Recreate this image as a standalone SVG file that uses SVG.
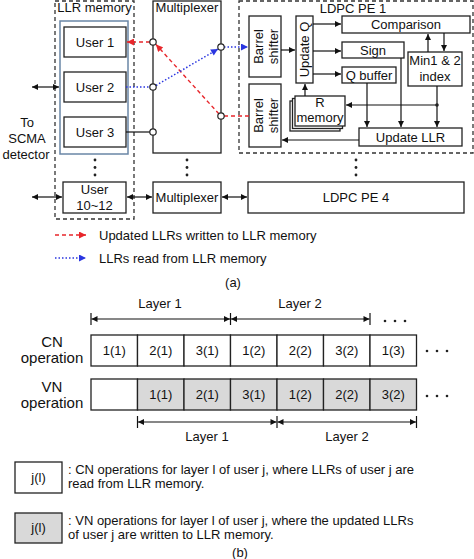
<svg xmlns="http://www.w3.org/2000/svg" width="474" height="559" viewBox="0 0 474 559">
<defs>
<style>
text{font-family:"Liberation Sans",Arial,sans-serif;font-size:13px;fill:#111}
.m{text-anchor:middle}
.box{fill:#fff;stroke:#222;stroke-width:1.3}
.g{fill:#d9d9d9;stroke:#222;stroke-width:1.3}
.dash{fill:none;stroke:#333;stroke-width:1.3;stroke-dasharray:4 3}
.ln{fill:none;stroke:#111;stroke-width:1.2}
.red{fill:none;stroke:#e8262b;stroke-width:1.4;stroke-dasharray:4 3}
.blue{fill:none;stroke:#2a36e0;stroke-width:1.5;stroke-dasharray:1.5 2}
.node{fill:#fff;stroke:#222;stroke-width:1.2}
.dot{fill:#222}
.big{font-size:15px}
</style>
<marker id="ab" viewBox="0 0 10 10" refX="10" refY="5" markerWidth="8" markerHeight="6" markerUnits="userSpaceOnUse" orient="auto-start-reverse"><path d="M0,0L10,5L0,10z" fill="#111"/></marker>
<marker id="ar" viewBox="0 0 10 10" refX="10" refY="5" markerWidth="9" markerHeight="7" markerUnits="userSpaceOnUse" orient="auto"><path d="M0,0L10,5L0,10z" fill="#e8262b"/></marker>
<marker id="au" viewBox="0 0 10 10" refX="10" refY="5" markerWidth="9" markerHeight="7" markerUnits="userSpaceOnUse" orient="auto"><path d="M0,0L10,5L0,10z" fill="#2a36e0"/></marker>
</defs>
<rect width="474" height="559" fill="#fff"/>

<!-- (a) containers -->
<g id="llr-memory">
<rect class="dash" x="55" y="1" width="79" height="218"/>
<text class="m" x="94.5" y="12">LLR memory</text>
<rect x="60" y="21" width="68" height="133" fill="none" stroke="#6a86a6" stroke-width="1.5"/>
</g>
<g id="user1"><rect class="box" x="64" y="27" width="62" height="30"/><text class="m" x="95" y="47">User 1</text></g>
<g id="user2"><rect class="box" x="64" y="72" width="62" height="30"/><text class="m" x="95" y="92">User 2</text></g>
<g id="user3"><rect class="box" x="64" y="117" width="62" height="30"/><text class="m" x="95" y="137">User 3</text></g>
<g id="user10-12"><rect class="box" x="63" y="182" width="63" height="31"/><text class="m" x="94.5" y="194">User</text><text class="m" x="94.5" y="210">10~12</text></g>

<g id="mux1"><rect class="box" x="153" y="1" width="68" height="152"/><text class="m" x="187" y="12">Multiplexer</text></g>
<g id="mux2"><rect class="box" x="153" y="182" width="68" height="31"/><text class="m" x="187" y="202">Multiplexer</text></g>

<g id="pe1">
<rect class="dash" x="239" y="1" width="234" height="152"/>
<text class="m" x="353" y="13">LDPC PE 1</text>
</g>
<g id="barrel1"><rect class="box" x="249" y="16" width="32" height="61"/>
<text class="m" transform="translate(263,46.5) rotate(-90)">Barrel</text><text class="m" transform="translate(277.5,46.5) rotate(-90)">shifter</text></g>
<g id="barrel2"><rect class="box" x="249" y="84" width="32" height="63"/>
<text class="m" transform="translate(263,115.5) rotate(-90)">Barrel</text><text class="m" transform="translate(277.5,115.5) rotate(-90)">shifter</text></g>
<g id="updateq"><rect class="box" x="296" y="16" width="17" height="67"/>
<text class="m" transform="translate(309,49.5) rotate(-90)">Update Q</text></g>
<g id="comparison"><rect class="box" x="342" y="16" width="128" height="17"/><text class="m" x="406" y="29">Comparison</text></g>
<g id="sign"><rect class="box" x="342" y="42" width="62" height="16"/><text class="m" x="373" y="55">Sign</text></g>
<g id="qbuffer"><rect class="box" x="342" y="67" width="54" height="16"/><text class="m" x="369" y="80">Q buffer</text></g>
<g id="min12"><rect class="box" x="408" y="52" width="54" height="34"/><text class="m" x="435" y="65">Min1 &amp; 2</text><text class="m" x="435" y="81">index</text></g>
<g id="rmemory">
<rect class="box" x="290" y="101" width="50" height="30"/>
<rect class="box" x="292.5" y="98.5" width="50" height="30"/>
<rect class="box" x="295" y="96" width="50" height="30"/>
<text class="m" x="320" y="107">R</text><text class="m" x="320" y="122">memory</text></g>
<g id="updatellr"><rect class="box" x="359" y="128" width="103" height="18"/><text class="m" x="410.5" y="142">Update LLR</text></g>

<g id="pe4"><rect class="box" x="248" y="182" width="216" height="31"/><text class="m" x="356" y="202">LDPC PE 4</text></g>

<!-- connectors (a) -->
<g id="connectors-a">
<line class="ln" x1="32" y1="87" x2="59" y2="87" marker-start="url(#ab)" marker-end="url(#ab)"/>
<line class="ln" x1="32" y1="197" x2="62" y2="197" marker-start="url(#ab)" marker-end="url(#ab)"/>
<line class="ln" x1="127" y1="197" x2="152" y2="197" marker-start="url(#ab)" marker-end="url(#ab)"/>
<line class="ln" x1="222" y1="197" x2="247" y2="197" marker-start="url(#ab)" marker-end="url(#ab)"/>
<line class="ln" x1="126" y1="132" x2="150" y2="132"/>
<!-- red: PE -> mux -> user1 -->
<line class="red" x1="249" y1="116" x2="224" y2="116"/>
<line class="red" x1="219" y1="114" x2="156" y2="44.5" marker-end="url(#ar)"/>
<line class="red" x1="150" y1="42" x2="127" y2="42" marker-end="url(#ar)"/>
<!-- blue: user2 -> mux -> PE -->
<line class="blue" x1="126" y1="87" x2="150" y2="87"/>
<line class="blue" x1="156" y1="85.5" x2="218" y2="49" marker-end="url(#au)"/>
<line class="blue" x1="224" y1="47" x2="248" y2="47" marker-end="url(#au)"/>
<circle class="node" cx="153" cy="42" r="3.2"/>
<circle class="node" cx="153" cy="87" r="3.2"/>
<circle class="node" cx="153" cy="132" r="3.2"/>
<circle class="node" cx="221" cy="47" r="3.2"/>
<circle class="node" cx="221" cy="116" r="3.2"/>
<!-- PE1 internal -->
<line class="ln" x1="281" y1="50" x2="295" y2="50" marker-end="url(#ab)"/>
<line class="ln" x1="313" y1="24" x2="341" y2="24" marker-end="url(#ab)"/>
<line class="ln" x1="313" y1="51" x2="341" y2="51" marker-end="url(#ab)"/>
<line class="ln" x1="313" y1="74" x2="341" y2="74" marker-end="url(#ab)"/>
<line class="ln" x1="428" y1="52" x2="428" y2="34" marker-end="url(#ab)"/>
<line class="ln" x1="444" y1="33" x2="444" y2="51" marker-end="url(#ab)"/>
<line class="ln" x1="305" y1="96" x2="305" y2="84" marker-end="url(#ab)"/>
<line class="ln" x1="437" y1="86" x2="437" y2="127" marker-end="url(#ab)"/>
<line class="ln" x1="437" y1="105" x2="346" y2="105" marker-end="url(#ab)"/>
<circle class="dot" cx="437" cy="105" r="1.8"/>
<line class="ln" x1="367" y1="83" x2="367" y2="127" marker-end="url(#ab)"/>
<line class="ln" x1="401" y1="58" x2="401" y2="127" marker-end="url(#ab)"/>
<line class="ln" x1="359" y1="140" x2="282" y2="140" marker-end="url(#ab)"/>
<!-- vertical dots -->
<g class="dot">
<circle cx="95" cy="160" r="1.4"/><circle cx="95" cy="167.5" r="1.4"/><circle cx="95" cy="175" r="1.4"/>
<circle cx="187" cy="160" r="1.4"/><circle cx="187" cy="167.5" r="1.4"/><circle cx="187" cy="175" r="1.4"/>
<circle cx="356" cy="160" r="1.4"/><circle cx="356" cy="167.5" r="1.4"/><circle cx="356" cy="175" r="1.4"/>
</g>
</g>

<g id="to-scma">
<text class="m" x="27" y="127">To</text>
<text class="m" x="27" y="143">SCMA</text>
<text class="m" x="26" y="159">detector</text>
</g>

<g id="legend-a">
<line class="red" x1="55" y1="235" x2="86" y2="235" marker-end="url(#ar)"/>
<text x="99" y="240">Updated LLRs written to LLR memory</text>
<line class="blue" x1="55" y1="258" x2="86" y2="258" marker-end="url(#au)"/>
<text x="99" y="263">LLRs read from LLR memory</text>
<text class="m" x="233" y="287">(a)</text>
</g>

<!-- (b) -->
<g id="labels-b">
<text class="m big" x="52" y="347">CN</text>
<text class="m big" x="52" y="363">operation</text>
<text class="m big" x="52" y="392">VN</text>
<text class="m big" x="52" y="408">operation</text>
</g>
<g id="cn-row">
<rect class="box" x="91" y="335" width="46.5" height="31"/><text class="m" x="114.25" y="355">1(1)</text>
<rect class="box" x="137.5" y="335" width="46.5" height="31"/><text class="m" x="160.75" y="355">2(1)</text>
<rect class="box" x="184" y="335" width="46.5" height="31"/><text class="m" x="207.25" y="355">3(1)</text>
<rect class="box" x="230.5" y="335" width="46.5" height="31"/><text class="m" x="253.75" y="355">1(2)</text>
<rect class="box" x="277" y="335" width="46.5" height="31"/><text class="m" x="300.25" y="355">2(2)</text>
<rect class="box" x="323.5" y="335" width="46.5" height="31"/><text class="m" x="346.75" y="355">3(2)</text>
<rect class="box" x="370" y="335" width="46.5" height="31"/><text class="m" x="393.25" y="355">1(3)</text>
</g>
<g id="vn-row">
<rect class="box" x="91" y="379" width="46.5" height="31"/>
<rect class="g" x="137.5" y="379" width="46.5" height="31"/><text class="m" x="160.75" y="399">1(1)</text>
<rect class="g" x="184" y="379" width="46.5" height="31"/><text class="m" x="207.25" y="399">2(1)</text>
<rect class="g" x="230.5" y="379" width="46.5" height="31"/><text class="m" x="253.75" y="399">3(1)</text>
<rect class="g" x="277" y="379" width="46.5" height="31"/><text class="m" x="300.25" y="399">1(2)</text>
<rect class="g" x="323.5" y="379" width="46.5" height="31"/><text class="m" x="346.75" y="399">2(2)</text>
<rect class="g" x="370" y="379" width="46.5" height="31"/><text class="m" x="393.25" y="399">3(2)</text>
</g>
<g id="connectors-b">
<line class="ln" x1="91" y1="313" x2="91" y2="325"/>
<line class="ln" x1="230.5" y1="313" x2="230.5" y2="325"/>
<line class="ln" x1="370" y1="313" x2="370" y2="325"/>
<line class="ln" x1="91.5" y1="319" x2="230" y2="319" marker-start="url(#ab)" marker-end="url(#ab)"/>
<line class="ln" x1="231" y1="319" x2="369.5" y2="319" marker-start="url(#ab)" marker-end="url(#ab)"/>
<line class="ln" x1="137.5" y1="416" x2="137.5" y2="428"/>
<line class="ln" x1="277" y1="416" x2="277" y2="428"/>
<line class="ln" x1="416.5" y1="416" x2="416.5" y2="428"/>
<line class="ln" x1="138" y1="422" x2="276.5" y2="422" marker-start="url(#ab)" marker-end="url(#ab)"/>
<line class="ln" x1="277.5" y1="422" x2="416" y2="422" marker-start="url(#ab)" marker-end="url(#ab)"/>
<g class="dot">
<circle cx="385" cy="321" r="1.3"/><circle cx="395" cy="321" r="1.3"/><circle cx="405" cy="321" r="1.3"/>
<circle cx="427" cy="351" r="1.3"/><circle cx="437" cy="351" r="1.3"/><circle cx="447" cy="351" r="1.3"/>
<circle cx="427" cy="396" r="1.3"/><circle cx="437" cy="396" r="1.3"/><circle cx="447" cy="396" r="1.3"/>
</g>
</g>
<g id="layer-labels">
<text class="m" x="160" y="308">Layer 1</text>
<text class="m" x="300" y="308">Layer 2</text>
<text class="m" x="207" y="441">Layer 1</text>
<text class="m" x="347" y="441">Layer 2</text>
</g>
<g id="legend-b">
<rect class="box" x="15" y="462" width="47" height="31"/><text class="m" x="38.5" y="482">j(l)</text>
<text x="68" y="474">: CN operations for layer l of user j, where LLRs of user j are</text>
<text x="68" y="488">read from LLR memory.</text>
<rect class="g" x="15" y="513" width="47" height="30"/><text class="m" x="38.5" y="532">j(l)</text>
<text x="68" y="525">: VN operations for layer l of user j, where the updated LLRs</text>
<text x="68" y="539">of user j are written to LLR memory.</text>
<text class="m" x="240" y="557">(b)</text>
</g>
</svg>
